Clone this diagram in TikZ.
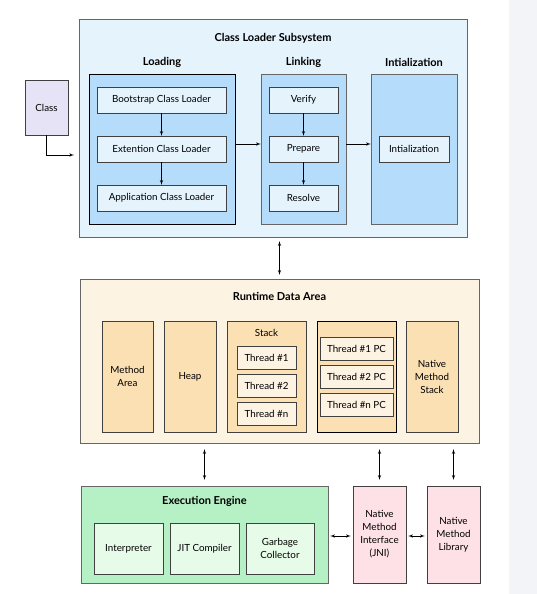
\documentclass[tikz,border=0pt]{standalone}
\usepackage{fontspec}
\setmainfont{Lato}
\usetikzlibrary{shapes,arrows,positioning}
\definecolor{clslight}{HTML}{E5F3FD}
\definecolor{clsblue}{HTML}{B5DCFA}
\definecolor{classviolet}{HTML}{E6E3F7}
\definecolor{rdalight}{HTML}{FDF3E3}
\definecolor{rdaorange}{HTML}{FBE0B4}
\definecolor{eegreen}{HTML}{B6F1C5}
\definecolor{eelight}{HTML}{E7FBE9}
\definecolor{nativepink}{HTML}{FDE1E7}
\definecolor{strip}{HTML}{F2F4F7}
\tikzstyle{frame} = [rectangle, draw=black!60, inner sep=0pt]
\tikzstyle{block} = [rectangle, draw=black!75, inner sep=2pt, align=center]
\tikzstyle{heading} = [font=\bfseries\fontsize{11}{12}\selectfont]
\tikzstyle{line} = [draw, line width=0.6pt, -latex']
\tikzstyle{twoway} = [draw, line width=0.6pt, latex'-latex', shorten >=6pt, shorten <=6pt]

\begin{document}
\begin{tikzpicture}[x=1pt, y=-1pt, node distance=49pt, font=\fontsize{9.8}{13}\selectfont]
    \useasboundingbox (0,0) rectangle (537,594);
    \fill [strip] (509,0) rectangle (537,594);

    % Place nodes
    \node [frame, fill=clslight, minimum width=388pt, minimum height=218pt] (cls) at (273,128) {};
    \node [heading] (clstitle) at (273,38) {Class Loader Subsystem};

    \node [frame, draw=black, thick, fill=clsblue, minimum width=146pt, minimum height=150pt] (loading) at (162,149) {};
    \node [heading] (loadingtitle) at (162,62) {Loading};
    \node [block, fill=clslight, minimum width=129pt, minimum height=26pt] (bootstrap) at (161.5,100) {Bootstrap Class Loader};
    \node [block, fill=clslight, minimum width=129pt, minimum height=26pt, below of=bootstrap] (extention) {Extention Class Loader};
    \node [block, fill=clslight, minimum width=129pt, minimum height=26pt, below of=extention] (application) {Application Class Loader};

    \node [frame, fill=clsblue, minimum width=85pt, minimum height=150pt] (linking) at (303.5,149) {};
    \node [heading] (linkingtitle) at (303.5,62) {Linking};
    \node [block, fill=clslight, minimum width=69pt, minimum height=26pt] (verify) at (303.5,100) {Verify};
    \node [block, fill=clslight, minimum width=69pt, minimum height=26pt, below of=verify] (prepare) {Prepare};
    \node [block, fill=clslight, minimum width=69pt, minimum height=26pt, below of=prepare] (resolve) {Resolve};

    \node [frame, fill=clsblue, minimum width=86pt, minimum height=150pt] (initbox) at (414,149) {};
    \node [heading] (inittitle) at (414,62) {Intialization};
    \node [block, fill=clslight, minimum width=70pt, minimum height=26pt] (init) at (414,149) {Intialization};

    \node [block, fill=classviolet, minimum width=43pt, minimum height=55pt] (class) at (46.5,107.5) {Class};
    \coordinate (clsin) at (74,155);

    \node [frame, fill=rdalight, minimum width=399pt, minimum height=164pt] (rda) at (279.5,361) {};
    \node [heading] (rdatitle) at (279.5,296) {Runtime Data Area};
    \node [block, fill=rdaorange, minimum width=51pt, minimum height=111pt] (method) at (127.5,376.5) {Method\\Area};
    \node [block, fill=rdaorange, minimum width=52pt, minimum height=111pt] (heap) at (190,376.5) {Heap};
    \node [block, fill=rdaorange, minimum width=79pt, minimum height=111pt] (stack) at (266.5,376.5) {};
    \node (stacktitle) at (266.5,333) {Stack};
    \node [block, fill=rdalight, minimum width=59pt, minimum height=23pt] (thread1) at (266.5,357.5) {Thread \#1};
    \node [block, fill=rdalight, minimum width=59pt, minimum height=23pt, below of=thread1, node distance=28pt] (thread2) {Thread \#2};
    \node [block, fill=rdalight, minimum width=59pt, minimum height=23pt, below of=thread2, node distance=28pt] (threadn) {Thread \#n};
    \node [block, draw=black, thick, fill=rdaorange, minimum width=79pt, minimum height=111pt] (pc) at (356.5,376.5) {};
    \node [block, fill=rdalight, minimum width=73pt, minimum height=23pt] (pc1) at (356.5,348.5) {Thread \#1 PC};
    \node [block, fill=rdalight, minimum width=73pt, minimum height=23pt, below of=pc1, node distance=28pt] (pc2) {Thread \#2 PC};
    \node [block, fill=rdalight, minimum width=73pt, minimum height=23pt, below of=pc2, node distance=28pt] (pcn) {Thread \#n PC};
    \node [block, fill=rdaorange, minimum width=52pt, minimum height=111pt] (nativestack) at (432,376.5) {Native\\Method\\Stack};

    \node [frame, fill=eegreen, minimum width=247pt, minimum height=97pt] (engine) at (204.5,534.5) {};
    \node [heading] (enginetitle) at (204.5,501) {Execution Engine};
    \node [block, fill=eelight, minimum width=69pt, minimum height=51pt] (interpreter) at (128.5,548.5) {Interpreter};
    \node [block, fill=eelight, minimum width=69pt, minimum height=51pt] (jit) at (204.5,548.5) {JIT Compiler};
    \node [block, fill=eelight, minimum width=68pt, minimum height=51pt] (gc) at (280,548.5) {Garbage\\Collector};

    \node [block, fill=nativepink, minimum width=53pt, minimum height=97pt] (jni) at (379.5,534.5) {Native\\Method\\Interface\\(JNI)};
    \node [block, fill=nativepink, minimum width=53pt, minimum height=97pt] (library) at (453.5,534.5) {Native\\Method\\Library};

    % Draw edges
    \path [line] (bootstrap) -- (extention);
    \path [line] (extention) -- (application);
    \path [line] (verify) -- (prepare);
    \path [line] (prepare) -- (resolve);
    \path [line] ([yshift=5pt]loading.east) -- ([yshift=5pt]linking.west);
    \path [line] ([yshift=5pt]linking.east) -- ([yshift=5pt]initbox.west);
    \path [line] (class) |- (clsin);

    \path [twoway, shorten >=4pt, shorten <=4pt] (cls.south -| rda.north) -- (rda.north);
    \path [twoway] (engine.north) -- (engine.north |- rda.south);
    \path [twoway] (jni.north) -- (jni.north |- rda.south);
    \path [twoway] (library.north) -- (library.north |- rda.south);
    \path [twoway, shorten >=2pt, shorten <=2pt] (engine.east |- 0,536) -- (jni.west |- 0,536);
    \path [twoway, shorten >=2pt, shorten <=2pt] (jni.east |- 0,536) -- (library.west |- 0,536);
\end{tikzpicture}
\end{document}
